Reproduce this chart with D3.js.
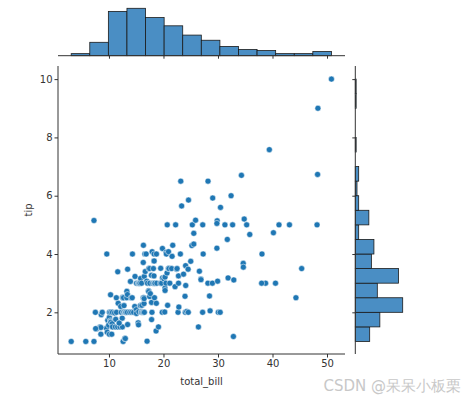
<!DOCTYPE html><html><head><meta charset="utf-8"><script src="https://cdn.jsdelivr.net/npm/d3@7"></script>
<style>body{margin:0;background:#fff}text{font-family:"DejaVu Sans",sans-serif}</style></head><body><svg id="c" width="474" height="401"></svg>
<script>
const totalBill=[50.81,48.33,39.42,48.27,34.3,23.17,28.17,32.4,29.03,24.59,23.33,30.46,7.25,48.17,43.11,41.19,34.81,35.26,31.27,32.68,29.85,29.8,27.2,25.29,25.89,20.69,22.23,35.83,40.17,31.71,25.56,38.07,34.63,34.65,45.35,40.55,38.73,38.01,44.3,32.83,26.41,3.07,5.75,7.25,12.6,12.9,16.99,9.55,
7.51,7.74,8.35,8.51,8.52,8.58,8.77,9.6,9.68,9.78,9.94,10.07,10.07,10.09,10.27,10.29,10.33,10.34,10.34,10.51,10.59,10.63,10.65,11.02,11.17,11.24,11.35,11.38,11.59,11.61,11.69,11.87,12.03,12.16,12.26,12.43,12.46,12.48,12.54,12.66,12.69,12.74,12.76,13,13.03,13.13,13.27,13.28,13.37,13.39,13.42,13.42,13.81,13.94,14.07,14.15,14.26,14.31,14.52,14.73,14.78,15.01,15.04,15.06,15.36,15.38,15.42,15.48,15.53,15.69,15.77,15.81,15.95,15.98,15.98,16,16.04,16.21,16.27,16.29,16.31,16.32,16.4,16.43,16.45,16.47,16.49,16.58,16.66,16.82,16.93,17.07,17.26,17.29,17.31,17.46,17.47,17.51,17.59,17.78,17.81,17.82,17.89,17.92,18.04,18.15,18.24,18.26,18.28,18.29,18.29,18.35,18.43,18.64,18.69,18.71,18.78,19.08,19.44,19.49,19.65,19.77,19.81,19.82,20.08,20.23,20.27,20.29,20.29,20.45,20.49,20.53,20.65,20.76,20.9,20.92,21.01,21.16,21.5,21.58,21.7,22.12,22.42,22.49,22.67,22.75,22.76,22.82,23.1,23.68,23.95,24.01,24.06,24.08,24.27,24.52,24.55,25,25.21,25.56,26.59,26.86,26.88,27.18,27.28,28.15,28.44,28.55,28.97,29.93,30.06,30.4,31.85,32.9,29.8,13.0,7.56,11.87];
const tip=[10,9,7.58,6.73,6.7,6.5,6.5,6,5.92,5.85,5.65,5.6,5.15,5,5,5,5.2,5,5,5,5.14,5.05,5,5,5.16,5,5,4.67,4.73,4.5,4.71,4,3.68,3.55,3.5,3,3,3,2.5,1.17,1.5,1,1,1,1,1.1,1.01,1.45,
2,1.44,1.5,1.25,1.48,1.92,2,4,1.32,1.73,1.56,1.25,1.83,2,1.71,2.6,1.67,1.66,2,1.25,1.61,2,1.5,1.98,1.5,1.76,2.5,2,1.5,3.39,2.31,1.63,1.5,2.2,2,1.8,1.5,2.52,2.5,2.5,2,2.01,2.23,2,2,2,2.5,2.72,2,2.61,1.58,3.48,2,3.06,2.5,2,2.5,4,2,2.2,3.23,2.09,1.96,3,1.64,3,1.57,2.02,3,3,2.23,3.16,2,2.03,3,2,2.24,2,2.5,3.71,2,4.3,2.5,2.3,2.47,3.23,2,4,3.4,4,3.07,3,2.74,2.71,3.5,2.54,3.5,3,2.64,3.27,2.34,1.75,2,4.08,3,3.5,3.76,3.25,4,3.76,3,2.5,3,1.36,2.31,4,3,1.5,3,3.51,3,2,4.19,3.18,3.15,2.01,2.83,2.75,3.21,3,4.06,4,3.35,2.24,3.5,4.08,3.5,3,3.5,3.92,4.3,2.88,3.48,3.5,2,3.25,3,2.18,4,3.31,2.55,2,3.6,2.92,2.03,3.48,2,3.75,4.29,4.34,3.41,3.14,3.12,2,4,3,2.56,2.05,3,3.07,2,2,3.18,3.11,4.2,1.1,1.44,1.63];
const billBinStart=3.07, billBinWidth=3.41;
const billCounts=[2,13,43,46,37,29,20,15,9,6,5,2,2,4];
const tipBinStart=1, tipBinWidth=0.5;
const tipCounts=[17,29,56,26,51,19,22,4,16,4,2,4,0,1,0,0,1,1];
const xTicks=[10,20,30,40,50], yTicks=[2,4,6,8,10];

const svg=d3.select("#c");
const L=58,R=345,T=66,B=354;
const x=d3.scaleLinear().domain([0.65,53.3]).range([L,R]);
const y=d3.scaleLinear().domain([0.57,10.45]).range([B,T]);
const fill="#4a8ec4";
svg.append("g").attr("transform",`translate(0,${B})`).call(d3.axisBottom(x).tickValues(xTicks).tickSize(3.5).tickPadding(2))
 .call(g=>g.select(".domain").attr("d",`M${L},0H${R}`));
svg.append("g").attr("transform",`translate(${L},0)`).call(d3.axisLeft(y).tickValues(yTicks).tickSize(3.5).tickPadding(2))
 .call(g=>g.select(".domain").attr("d",`M0,${T}V${B}`));
svg.selectAll(".tick text").attr("font-size",10).attr("fill","#333");
svg.selectAll(".domain,.tick line").attr("stroke","#333");
svg.append("g").selectAll("circle").data(totalBill.map((v,i)=>[v,tip[i]])).join("circle")
 .attr("cx",d=>x(d[0])).attr("cy",d=>y(d[1])).attr("r",3).attr("fill","#1f77b4").attr("stroke","#fff").attr("stroke-width",0.5);
svg.append("text").attr("x",(L+R)/2).attr("y",385).attr("text-anchor","middle").attr("font-size",10).attr("fill","#333").text("total_bill");
svg.append("text").attr("transform","translate(32,210) rotate(-90)").attr("text-anchor","middle").attr("font-size",10).attr("fill","#333").text("tip");
const topBase=55.7;
const hc=d3.scaleLinear().domain([0,46]).range([topBase,8.3]);
svg.append("g").selectAll("rect").data(billCounts).join("rect")
 .attr("x",(d,i)=>x(billBinStart+i*billBinWidth)).attr("width",x(billBinWidth)-x(0))
 .attr("y",d=>hc(d)).attr("height",d=>topBase-hc(d)).attr("fill",fill).attr("stroke","#1a1a1a").attr("stroke-width",0.8);
svg.append("g").attr("transform",`translate(0,${topBase})`).call(d3.axisBottom(x).tickValues(xTicks).tickSize(3).tickFormat(""))
 .call(g=>g.select(".domain").attr("d",`M${L},0H${R}`)).selectAll("path,line").attr("stroke","#333");
const rBase=355.3;
const hr=d3.scaleLinear().domain([0,56]).range([rBase,402.7]);
svg.append("g").selectAll("rect").data(tipCounts).join("rect")
 .attr("y",(d,i)=>y(tipBinStart+(i+1)*tipBinWidth)).attr("height",y(0)-y(tipBinWidth))
 .attr("x",rBase).attr("width",d=>hr(d)-rBase).attr("fill",fill).attr("stroke","#1a1a1a").attr("stroke-width",0.8);
svg.append("g").attr("transform",`translate(${rBase},0)`).call(d3.axisLeft(y).tickValues(yTicks).tickSize(3).tickFormat(""))
 .call(g=>g.select(".domain").attr("d",`M0,${T}V${B}`)).selectAll("path,line").attr("stroke","#333");
svg.append("text").attr("x",461).attr("y",391).attr("text-anchor","end").attr("font-size",15)
 .attr("font-family","'Noto Sans CJK SC',sans-serif").attr("fill","#c8c8c8").text("CSDN @呆呆小板栗");
</script></body></html>
